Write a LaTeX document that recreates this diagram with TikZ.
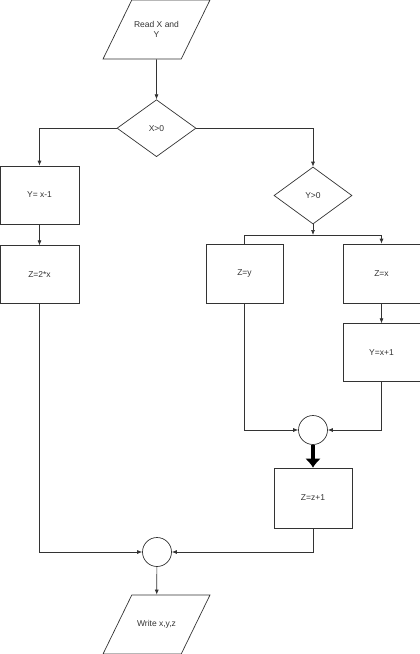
\documentclass[tikz,border=0pt]{standalone}
\usepackage{fontspec}
\setmainfont{Liberation Sans}
\usetikzlibrary{positioning,arrows.meta,calc,shapes}

\begin{document}
\begin{tikzpicture}[
    x=1pt, y=-1pt,
    node distance=20pt and 20pt,
    every node/.style={font=\fontsize{8.5}{10}\selectfont, text=black!80},
    every label/.style={align=center, inner sep=0pt},
    block/.style={draw=black!80, rectangle, align=center, minimum width=78pt, minimum height=58pt, inner sep=0pt, line width=0.7pt},
    decision/.style={draw=black!80, diamond, align=center, minimum width=79pt, minimum height=57pt, inner sep=0pt, line width=0.7pt},
    io/.style={draw=black!80, trapezium, trapezium left angle=64, trapezium right angle=116, text width=49.4pt, text height=59pt, text depth=0pt, inner sep=0pt, line width=0.7pt},
    merge/.style={draw=black!80, circle, minimum size=29pt, inner sep=0pt, line width=0.7pt},
    line/.style={draw=black!80, line width=0.7pt},
    arrow/.style={line, -{Latex[length=5pt,width=4pt]}},
    bigarrow/.style={draw=black, line width=3.5pt, -{Latex[length=9pt,width=16pt]}}
]
\useasboundingbox (0,0) rectangle (420,654);

% Nodes
\node[io, label=center:{Read X and\\Y}] (read) at (156.5,29.5) {};
\node[decision, below=40pt of read] (x0) {X>0};
\node[block, minimum width=79pt] (yx1) at (39.5,195) {Y= x-1};
\node[block, minimum width=79pt, below=21pt of yx1] (z2x) {Z=2*x};
\node[decision, minimum width=78pt] (y0) at (313,195.5) {Y>0};
\node[block, minimum width=77pt, minimum height=59pt] (zy) at (244.5,273.5) {Z=y};
\node[block, minimum width=77pt, minimum height=59pt] (zx) at (381.5,273.5) {Z=x};
\node[block, minimum width=77pt, below=20pt of zx] (yx1p) {Y=x+1};
\node[merge] (m1) at (313,430) {};
\node[block, minimum height=60pt] (zz1) at (313,498) {Z=z+1};
\node[merge] (m2) at (157,552) {};
\node[io, label=center:{Write x,y,z}] (write) at (156.5,624.5) {};
\coordinate (split) at (313,235);

% Arrows
\draw[arrow] (read) -- (x0);
\draw[arrow] (x0.west) -| (yx1.north);
\draw[arrow] (x0.east) -| (y0.north);
\draw[arrow] (yx1) -- (z2x);
\draw[arrow] (y0) -- (split);
\draw[line] (split) -| (zy.north);
\draw[arrow] (split) -| (zx.north);
\draw[arrow] (zx) -- (yx1p);
\draw[arrow] (zy.south) |- (m1.west);
\draw[arrow] (yx1p.south) |- (m1.east);
\draw[bigarrow] (m1) -- (zz1);
\draw[arrow] (z2x.south) |- (m2.west);
\draw[arrow] (zz1.south) |- (m2.east);
\draw[arrow] (m2) -- (write);

\end{tikzpicture}
\end{document}
